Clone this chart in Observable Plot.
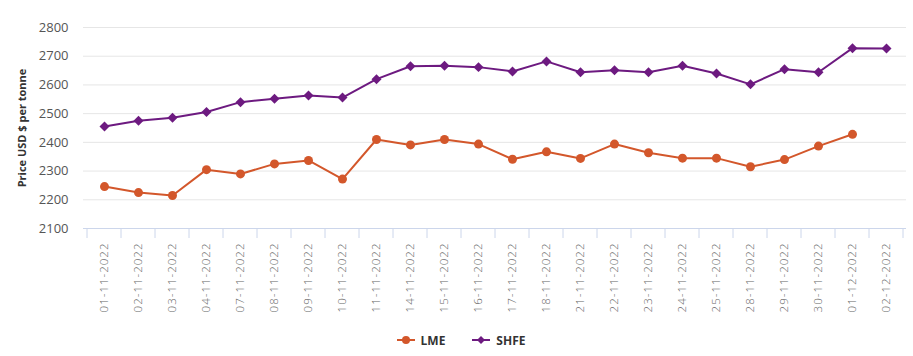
<!DOCTYPE html>
<html><head><meta charset="utf-8">
<script src="https://cdn.jsdelivr.net/npm/d3@7"></script>
<script src="https://cdn.jsdelivr.net/npm/@observablehq/plot@0.6"></script>
<style>
body{margin:0;background:#fff;font-family:"Open Sans",sans-serif;}
#chart svg{display:block;}
#chart [aria-label="x-axis tick label"] text{letter-spacing:1px;font-weight:300;}
#legend{display:flex;justify-content:center;align-items:center;height:30px;font-size:12px;font-weight:bold;color:#333;gap:26px;padding-left:8px;}
#legend .item{display:flex;align-items:center;gap:5px;}
</style></head><body>
<div id="chart"></div>
<div id="legend"></div>
<script>
const dates = ["01-11-2022","02-11-2022","03-11-2022","04-11-2022","07-11-2022","08-11-2022","09-11-2022","10-11-2022","11-11-2022","14-11-2022","15-11-2022","16-11-2022","17-11-2022","18-11-2022","21-11-2022","22-11-2022","23-11-2022","24-11-2022","25-11-2022","28-11-2022","29-11-2022","30-11-2022","01-12-2022","02-12-2022"];
const lme = [2246,2225,2215,2305,2290,2325,2337,2272,2410,2391,2410,2394,2341,2367,2344,2394,2364,2345,2345,2315,2340,2387,2428,null];
const shfe = [2455,2475,2486,2506,2540,2552,2563,2556,2620,2665,2667,2662,2647,2682,2644,2651,2644,2667,2640,2602,2655,2644,2728,2727];
const yTicks = [2100,2200,2300,2400,2500,2600,2700,2800];
const seriesNames = ["LME","SHFE"];
const seriesColors = ["#d3572b","#6d1a80"];
const yLabel = "Price USD $ per tonne";

const rows = [];
dates.forEach((d,i)=>{
  rows.push({date:d, series:"LME", value:lme[i]});
  rows.push({date:d, series:"SHFE", value:shfe[i]});
});
const lmeRows = rows.filter(r=>r.series==="LME");
const shfeRows = rows.filter(r=>r.series==="SHFE");

function bandTicks(index, scales, values, dims) {
  const x = scales.x, y = scales.y;
  const bw = x.bandwidth ? x.bandwidth() : 0;
  const xs = dates.map(d=>x(d));
  xs.push(x(dates[dates.length-1]) + bw);
  const y0 = y(yTicks[0]);
  const g = d3.create("svg:g");
  g.selectAll("line").data(xs).join("line")
    .attr("x1", d=>d).attr("x2", d=>d)
    .attr("y1", y0).attr("y2", y0 + 10)
    .attr("stroke", "#ccd6eb").attr("stroke-width", 1);
  return g.node();
}

const chart = Plot.plot({
  width: 913,
  height: 325,
  marginLeft: 83,
  marginRight: 7,
  marginTop: 27,
  marginBottom: 97,
  style: {fontFamily: '"Open Sans", sans-serif', background: "#fff"},
  x: {type: "band", domain: dates, padding: 0, label: null},
  y: {domain: [2100, 2800], label: null},
  marks: [
    Plot.gridY(yTicks, {stroke: "#e6e6e6", strokeOpacity: 1}),
    Plot.ruleY([yTicks[0]], {stroke: "#ccd6eb"}),
    bandTicks,
    Plot.axisY(yTicks, {tickSize: 0, tickPadding: 15, fontSize: 13, fill: "#555", tickFormat: d=>String(d), label: null}),
    Plot.axisX({tickSize: 0, tickRotate: -90, tickPadding: 14, fontSize: 11.5, fill: "#666", label: null}),
    Plot.text([yLabel], {frameAnchor: "left", textAnchor: "middle", rotate: -90, dx: -61, fontSize: 11, fontWeight: "bold", fill: "#333"}),
    Plot.line(lmeRows, {x: "date", y: "value", stroke: seriesColors[0], strokeWidth: 2}),
    Plot.line(shfeRows, {x: "date", y: "value", stroke: seriesColors[1], strokeWidth: 2}),
    Plot.dot(lmeRows, {x: "date", y: "value", fill: seriesColors[0], r: 4.5, symbol: "circle"}),
    Plot.dot(shfeRows, {x: "date", y: "value", fill: seriesColors[1], r: 4.5, symbol: "diamond2"})
  ]
});
document.getElementById("chart").appendChild(chart);

const legend = document.getElementById("legend");
seriesNames.forEach((name,i)=>{
  const item = document.createElement("div");
  item.className = "item";
  const sym = d3.create("svg").attr("width", 20).attr("height", 12);
  sym.append("line").attr("x1",1).attr("x2",19).attr("y1",6).attr("y2",6).attr("stroke",seriesColors[i]).attr("stroke-width",2);
  if (i===0) sym.append("circle").attr("cx",10).attr("cy",6).attr("r",4).attr("fill",seriesColors[i]);
  else sym.append("path").attr("d","M10,2L14,6L10,10L6,6Z").attr("fill",seriesColors[i]);
  item.appendChild(sym.node());
  const t = document.createElement("span");
  t.textContent = name;
  item.appendChild(t);
  legend.appendChild(item);
});
</script>
</body></html>
